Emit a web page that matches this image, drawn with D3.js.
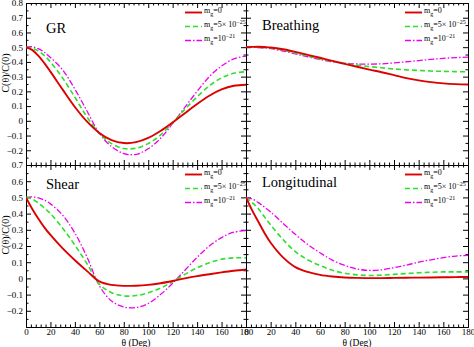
<!DOCTYPE html>
<html><head><meta charset="utf-8">
<script src="https://cdn.jsdelivr.net/npm/d3@7"></script>
<style>body{margin:0;background:#fff}svg{display:block}</style>
</head><body>
<svg id="c" width="474" height="347"></svg>
<script>
// ---- data ----
const thetaDeg = [0,5,10,15,20,30,40,50,60,70,80,90,100,110,120,130,140,150,160,170,180];
const grRed      = [0.5,0.482,0.443,0.392,0.334,0.212,0.094,-0.006,-0.082,-0.131,-0.151,-0.145,-0.116,-0.069,-0.011,0.052,0.114,0.170,0.213,0.238,0.245];
const grGreen    = [0.5,0.493,0.475,0.443,0.40,0.29,0.16,0.025,-0.085,-0.155,-0.188,-0.186,-0.155,-0.097,-0.012,0.078,0.163,0.238,0.292,0.323,0.333];
const grMagenta  = [0.5,0.503,0.49,0.465,0.43,0.345,0.215,0.065,-0.085,-0.175,-0.222,-0.228,-0.19,-0.12,-0.018,0.092,0.20,0.30,0.372,0.42,0.44];
const brRed      = [0.5,0.502,0.503,0.501,0.498,0.486,0.468,0.448,0.428,0.407,0.387,0.367,0.348,0.33,0.31,0.29,0.275,0.263,0.254,0.249,0.247];
const brGreen    = [0.5,0.5,0.499,0.497,0.494,0.48,0.46,0.44,0.42,0.405,0.39,0.378,0.368,0.36,0.352,0.346,0.342,0.338,0.336,0.334,0.333];
const brMagenta  = [0.5,0.5,0.497,0.494,0.49,0.474,0.455,0.435,0.416,0.401,0.391,0.386,0.385,0.387,0.393,0.401,0.409,0.417,0.424,0.429,0.432];
const shRed      = [0.5,0.43,0.37,0.315,0.268,0.185,0.112,0.045,-0.018,-0.04,-0.046,-0.045,-0.04,-0.03,-0.016,0.0,0.014,0.026,0.037,0.047,0.055];
const shGreen    = [0.5,0.49,0.465,0.435,0.40,0.31,0.205,0.09,-0.035,-0.088,-0.108,-0.106,-0.089,-0.06,-0.02,0.025,0.065,0.097,0.118,0.127,0.126];
const shMagenta  = [0.5,0.503,0.497,0.483,0.46,0.39,0.28,0.13,-0.045,-0.14,-0.176,-0.18,-0.155,-0.10,-0.03,0.05,0.13,0.20,0.252,0.285,0.295];
const loRed      = [0.5,0.42,0.35,0.28,0.22,0.13,0.07,0.04,0.022,0.012,0.006,0.003,0.002,0.002,0.003,0.004,0.005,0.006,0.007,0.008,0.009];
const loGreen    = [0.5,0.468,0.43,0.38,0.33,0.24,0.165,0.115,0.08,0.05,0.032,0.022,0.018,0.02,0.025,0.03,0.035,0.038,0.04,0.04,0.04];
const loMagenta  = [0.5,0.49,0.468,0.44,0.41,0.34,0.272,0.21,0.158,0.113,0.08,0.058,0.049,0.053,0.066,0.082,0.10,0.115,0.128,0.138,0.142];
const panelTitles = ["GR","Breathing","Shear","Longitudinal"];
const xTicks = [0,20,40,60,80,100,120,140,160,180];
const yTicksTop = [-0.2,-0.1,0,0.1,0.2,0.3,0.4,0.5,0.6,0.7,0.8];
const yTicksBottom = [-0.2,-0.1,0,0.1,0.2,0.3,0.4,0.5,0.6,0.7];
const xLabel = "θ (Deg)";
const yLabel = "C(θ)/C(0)";

// ---- layout ----
const svg = d3.select("#c");
const serif = "'Liberation Serif','Times New Roman',serif";
const colX = [[26,246],[246,468]];
const rowY = [[3,165],[165,327]];
const rowDomain = [[-0.3,0.8],[-0.3,0.7]];
const series = [
  [grRed,grGreen,grMagenta],[brRed,brGreen,brMagenta],
  [shRed,shGreen,shMagenta],[loRed,loGreen,loMagenta]
];
const styles = [
  {color:"#dc0000", w:1.9, dash:null},
  {color:"#2ee02e", w:1.6, dash:"5,3"},
  {color:"#ee00ee", w:1.3, dash:"6,2,1.5,2"}
];
const titlePos = [[46,33],[262,30],[46,189],[262,187]];
function fmtY(v){ if (Math.abs(v)<1e-9) return "0"; return (v<0?"\u2212":"")+Math.abs(v).toFixed(1); }

const defs = svg.append("defs");

for (let p=0;p<4;p++){
  const col = p%2, row = Math.floor(p/2);
  const x = d3.scaleLinear().domain([0,180]).range(colX[col]);
  const y = d3.scaleLinear().domain(rowDomain[row]).range([rowY[row][1],rowY[row][0]]);
  const g = svg.append("g");
  const yt = row===0 ? yTicksTop : yTicksBottom;
  const yMinor = d3.range(rowDomain[row][0]*100, rowDomain[row][1]*100+0.1, 5).map(v=>v/100).filter(v=>Math.abs(Math.round(v*20)%2)===1);
  const xMinor = d3.range(0,181,4).filter(v=>v%20!==0);

  defs.append("clipPath").attr("id","cp"+p).append("rect")
    .attr("x",colX[col][0]).attr("y",rowY[row][0])
    .attr("width",colX[col][1]-colX[col][0]).attr("height",rowY[row][1]-rowY[row][0]);

  const mk = (ax, pos, ticks, size, labels, fmtF, pad) => {
    const a = ax.tickValues(ticks).tickSize(size).tickSizeOuter(0).tickPadding(pad||3)
      .tickFormat(labels ? fmtF : () => "");
    const gg = g.append("g").call(a);
    gg.attr("transform", pos);
    gg.selectAll("path.domain").attr("stroke","#000").attr("stroke-width",1);
    gg.selectAll("line").attr("stroke","#000").attr("stroke-width",1);
    gg.selectAll("text").attr("font-family",serif).attr("font-size",9).attr("fill","#000");
    return gg;
  };
  mk(d3.axisBottom(x), `translate(0,${rowY[row][1]})`, xTicks, -5, row===1, d=>String(d), 2);
  mk(d3.axisBottom(x), `translate(0,${rowY[row][1]})`, xMinor, -2.5, false);
  mk(d3.axisTop(x), `translate(0,${rowY[row][0]})`, xTicks, -5, false);
  mk(d3.axisTop(x), `translate(0,${rowY[row][0]})`, xMinor, -2.5, false);
  mk(d3.axisLeft(y), `translate(${colX[col][0]},0)`, yt, -5, col===0, fmtY);
  mk(d3.axisLeft(y), `translate(${colX[col][0]},0)`, yMinor, -2.5, false);
  mk(d3.axisRight(y), `translate(${colX[col][1]},0)`, yt, -5, false);
  mk(d3.axisRight(y), `translate(${colX[col][1]},0)`, yMinor, -2.5, false);

  const line = d3.line().x((d,i)=>x(thetaDeg[i])).y(d=>y(d)).curve(d3.curveCatmullRom.alpha(0.5));
  const cg = g.append("g").attr("clip-path",`url(#cp${p})`);
  [2,1,0].forEach(k=>{
    cg.append("path").datum(series[p][k]).attr("d",line)
      .attr("fill","none").attr("stroke",styles[k].color).attr("stroke-width",styles[k].w)
      .attr("stroke-dasharray",styles[k].dash);
  });

  g.append("text").attr("x",titlePos[p][0]).attr("y",titlePos[p][1])
    .attr("font-family",serif).attr("font-size",14.5).text(panelTitles[p]);

  const lx = colX[col][0]+159, ly0 = rowY[row][0]+9.5;
  for (let k=0;k<3;k++){
    const ly = ly0 + k*14;
    g.append("line").attr("x1",lx).attr("x2",lx+17).attr("y1",ly).attr("y2",ly)
      .attr("stroke",styles[k].color).attr("stroke-width",styles[k].w).attr("stroke-dasharray",styles[k].dash);
    const t = g.append("text").attr("x",lx+19).attr("y",ly+0.5).attr("font-family",serif).attr("font-size",8);
    t.append("tspan").text("m");
    t.append("tspan").attr("font-size",6).attr("dy",3).text("g");
    if (k===0){ t.append("tspan").attr("dy",-3).text("=0"); }
    else if (k===1){ t.append("tspan").attr("dy",-3).text("=5\u00d7 10");
      t.append("tspan").attr("font-size",6).attr("dy",-3).text("\u221225"); }
    else { t.append("tspan").attr("dy",-3).text("=10");
      t.append("tspan").attr("font-size",6).attr("dy",-3).text("\u221221"); }
  }

  if (row===1){
    g.append("text").attr("x",(colX[col][0]+colX[col][1])/2).attr("y",346)
      .attr("text-anchor","middle").attr("font-family",serif).attr("font-size",9.5).text(xLabel);
  }
  if (col===0){
    const cy = (rowY[row][0]+rowY[row][1])/2 - 11;
    g.append("text").attr("transform",`translate(9,${cy}) rotate(-90)`)
      .attr("text-anchor","middle").attr("font-family",serif).attr("font-size",10).text(yLabel);
  }
}
</script>
</body></html>
